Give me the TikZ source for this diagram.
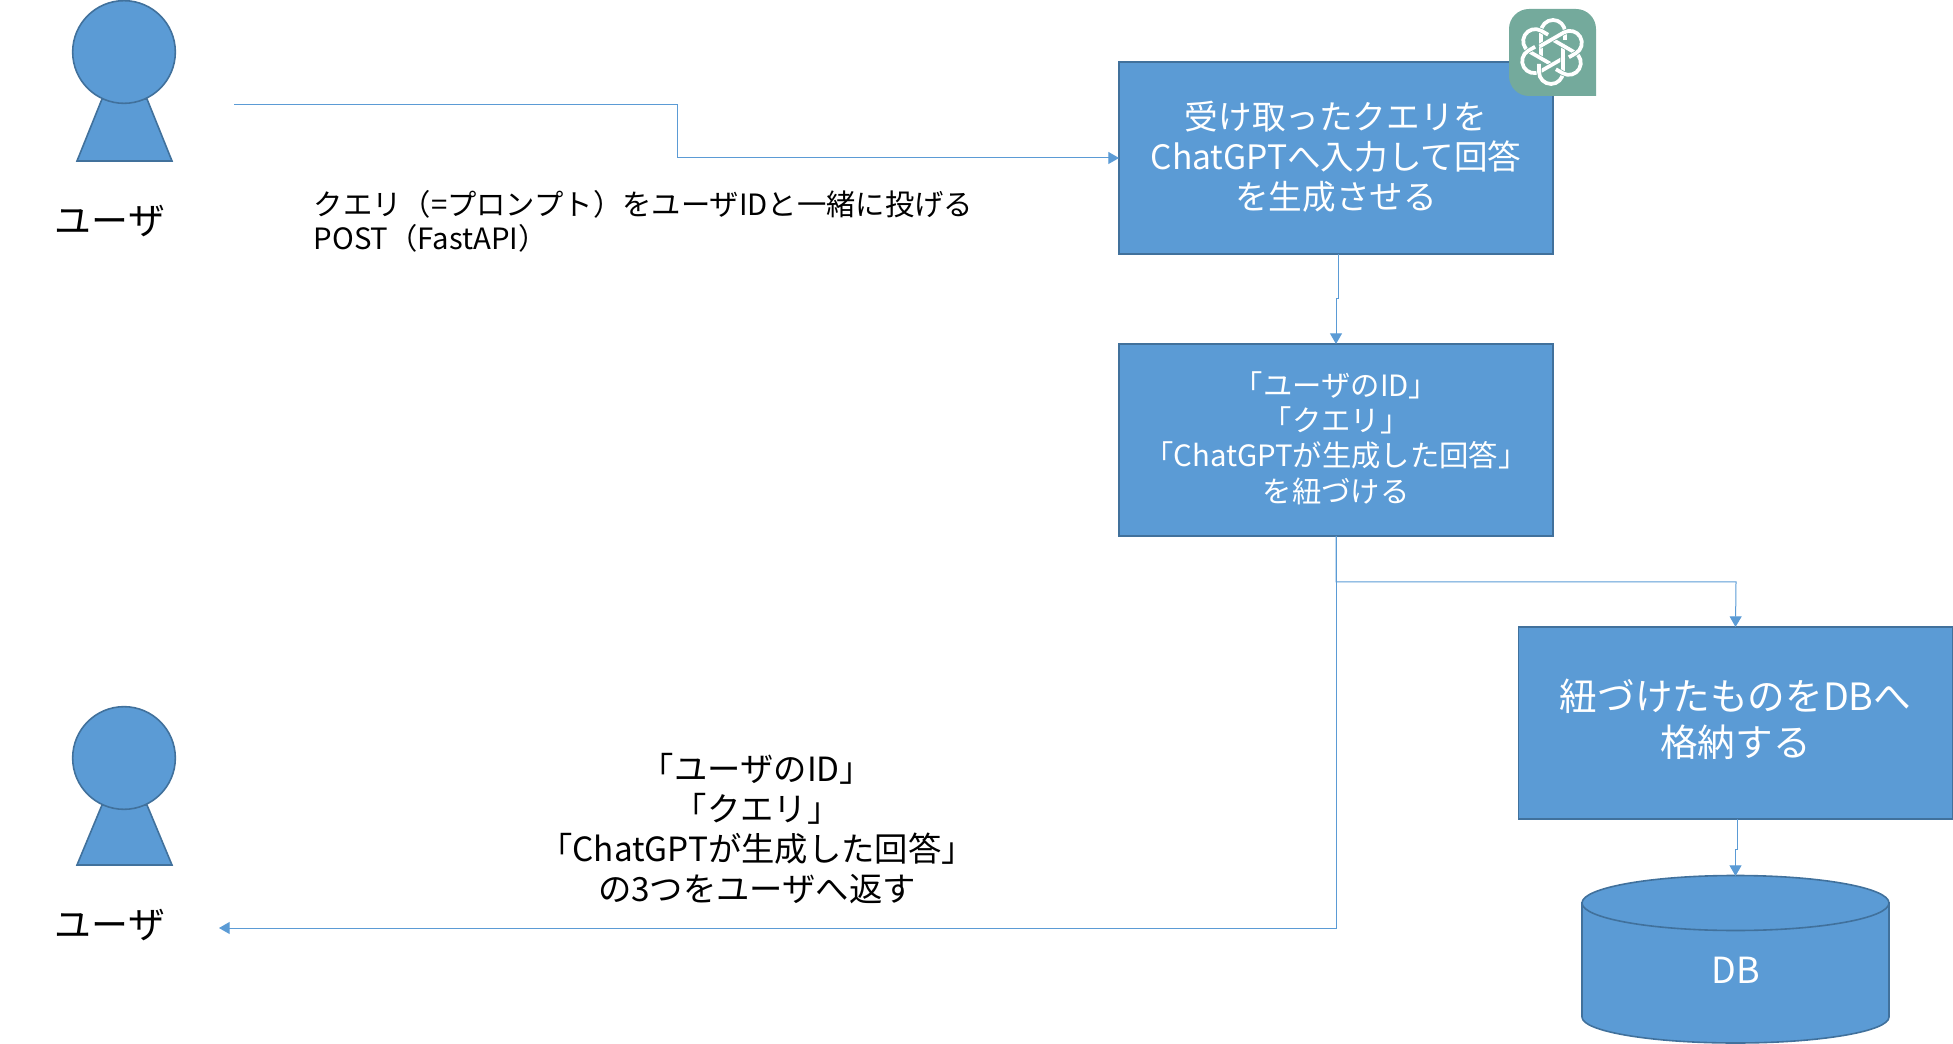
\documentclass[tikz,border=0pt]{standalone}
\usepackage{fontspec}
\setmainfont{Noto Sans CJK JP}
\usetikzlibrary{arrows.meta}
\definecolor{boxfill}{HTML}{5B9BD5}
\definecolor{boxline}{HTML}{41719C}
\definecolor{iconfill}{HTML}{74AA9C}
\tikzset{
  >={Triangle[width=9pt,length=8pt]},
  stepbox/.style={draw=boxline,fill=boxfill,rectangle,inner sep=0pt,
    outer sep=0pt,minimum width=325.5pt,minimum height=144pt,line width=1.2pt},
  boxtext/.style={text=white,align=center,inner sep=0pt},
  head/.style={draw=boxline,fill=boxfill,circle,inner sep=0pt,outer sep=0pt,minimum size=77pt,line width=1.2pt},
  body/.style={draw=boxline,fill=boxfill,line width=1.2pt},
  link/.style={draw=boxfill,line width=0.75pt,->}
}

\begin{document}
\begin{tikzpicture}[x=0.75pt,y=-0.75pt]
      \useasboundingbox (0,0) rectangle (1953,1044);
      \draw[body] (102,99) -- (77,161) -- (172,161) -- (147,99) -- cycle;
      \node[head] (U1) at (124,52) {};
      \node[font=\fontsize{27.7pt}{30pt}\selectfont] (T1) at (110,221.5) {ユーザ};
      \draw[body] (102,805) -- (77,865) -- (172,865) -- (147,805) -- cycle;
      \node[head] (U2) at (124,758) {};
      \node[font=\fontsize{27.7pt}{30pt}\selectfont] (T2) at (110,925.5) {ユーザ};
      \coordinate (S1) at (234,104.5);
      \coordinate (E2) at (219,928);
      \node[stepbox] (B1) at (1336,158) {};
      \node[boxtext,font=\fontsize{25.2pt}{30pt}\selectfont] (B1t) at (1336,157) {受け取ったクエリを\\ChatGPTへ入力して回答\\を生成させる};
      \node[stepbox] (B2) at (1336,440) {};
      \node[boxtext,font=\fontsize{22pt}{26.5pt}\selectfont] (B2t) at (1336,438) {「ユーザのID」\\「クエリ」\\「ChatGPTが生成した回答」\\を紐づける};
      \node[stepbox] (B3) at (1735.5,723) {};
      \node[boxtext,font=\fontsize{28.2pt}{34.5pt}\selectfont] (B3t) at (1735.5,719.5) {紐づけたものをDBへ\\格納する};
      % DB
      \draw[body] (1582,903) -- (1582,1017) arc[start angle=180,end angle=0,x radius=153.5,y radius=26] -- (1889,903) -- cycle;
      \draw[body] (1735.5,903) ellipse[x radius=153.5,y radius=27.5];
      \coordinate (DB) at (1735.5,876);
      \node[boxtext,font=\fontsize{27pt}{30pt}\selectfont] (DBt) at (1736,970) {DB};
      \node[anchor=west,align=left,font=\fontsize{22pt}{25.5pt}\selectfont] (L1) at (309,221) {クエリ（=プロンプト）をユーザIDと一緒に投げる\\POST（FastAPI）};
      \node[align=center,font=\fontsize{25pt}{30pt}\selectfont] (L2) at (757,829) {「ユーザのID」\\「クエリ」\\「ChatGPTが生成した回答」\\の3つをユーザへ返す};
      \draw[link] (S1) -- (677,104.5) -- (677,158) -- (B1.west);
      \draw[link] ([xshift=1.5pt]B1.south) -- ++(0,45) -- ++(-2,0) -- (B2.north);
      \draw[link] (B2.south) -- (1336,582) -- (1736,582) -- (B3.north);
      \draw[link] (B2.south) -- (1336,928) -- (E2);
      \draw[link] ([xshift=1.5pt]B3.south) -- ++(0,30) -- ++(-2,0) -- (DB);
      % icon
      \fill[iconfill,rounded corners=15pt] (1509,9) -- (1596,9) -- (1596,60) [sharp corners] -- (1596,96) [rounded corners=15pt] -- (1509,96) -- cycle;
      \begin{scope}[shift={(1552,52)},x=0.75pt,y=0.75pt]
        \foreach \a in {0,60,...,300}
          \draw[draw=iconfill,double=white,double distance=2.8pt,line width=0.5pt,rotate=\a,line join=round] (-11,-8) -- (-11,20) arc[start angle=180,end angle=0,radius=12] -- (13,12);
      \end{scope}
\end{tikzpicture}
\end{document}
